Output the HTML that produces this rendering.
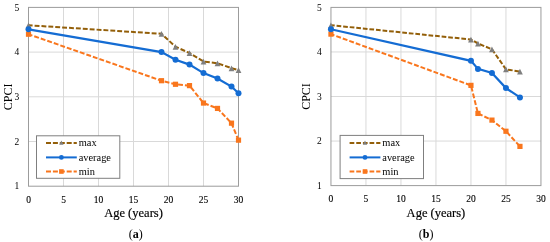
<!DOCTYPE html><html><head><meta charset="utf-8"><style>html,body{margin:0;padding:0;background:#fff;}svg{display:block}text{font-family:"Liberation Serif",serif;fill:#000}</style></head><body>
<svg width="550" height="242" viewBox="0 0 550 242">
<path d="M28.50 141.50H238.50M28.50 96.80H238.50M28.50 52.10H238.50M63.50 7.40V186.20M98.50 7.40V186.20M133.50 7.40V186.20M168.50 7.40V186.20M203.50 7.40V186.20" stroke="#D9D9D9" stroke-width="1" fill="none"/>
<rect x="28.50" y="7.40" width="210.00" height="178.80" stroke="#9C9C9C" stroke-width="1" fill="none"/>
<text x="19.30" y="189.40" font-size="9.5" text-anchor="end">1</text>
<text x="19.30" y="144.70" font-size="9.5" text-anchor="end">2</text>
<text x="19.30" y="100.00" font-size="9.5" text-anchor="end">3</text>
<text x="19.30" y="55.30" font-size="9.5" text-anchor="end">4</text>
<text x="19.30" y="10.60" font-size="9.5" text-anchor="end">5</text>
<text x="28.50" y="202.8" font-size="9.5" text-anchor="middle" stroke="#000" stroke-width="0.12">0</text>
<text x="63.50" y="202.8" font-size="9.5" text-anchor="middle" stroke="#000" stroke-width="0.12">5</text>
<text x="98.50" y="202.8" font-size="9.5" text-anchor="middle" stroke="#000" stroke-width="0.12">10</text>
<text x="133.50" y="202.8" font-size="9.5" text-anchor="middle" stroke="#000" stroke-width="0.12">15</text>
<text x="168.50" y="202.8" font-size="9.5" text-anchor="middle" stroke="#000" stroke-width="0.12">20</text>
<text x="203.50" y="202.8" font-size="9.5" text-anchor="middle" stroke="#000" stroke-width="0.12">25</text>
<text x="238.50" y="202.8" font-size="9.5" text-anchor="middle" stroke="#000" stroke-width="0.12">30</text>
<text x="133.50" y="217.3" font-size="12.5" text-anchor="middle" stroke="#000" stroke-width="0.18">Age (years)</text>
<text x="135.80" y="237.5" font-size="12" text-anchor="middle">(<tspan font-weight="bold">a</tspan>)</text>
<text transform="translate(11.80,96.80) rotate(-90)" font-size="12" text-anchor="middle">CPCI</text>
<polyline points="28.50,25.28 161.50,33.77 175.50,46.74 189.50,52.99 203.50,61.49 217.50,63.27 231.50,68.19 238.50,69.98" fill="none" stroke="#935F09" stroke-width="2" stroke-dasharray="4.9 2" stroke-dashoffset="0.8"/>
<polyline points="28.50,29.30 161.50,52.10 175.50,59.70 189.50,64.62 203.50,73.11 217.50,78.47 231.50,86.52 238.50,93.22" fill="none" stroke="#146CD3" stroke-width="2.2"/>
<polyline points="28.50,34.22 161.50,80.71 175.50,84.28 189.50,85.63 203.50,103.06 217.50,108.42 231.50,123.17 238.50,140.16" fill="none" stroke="#F9761D" stroke-width="2" stroke-dasharray="4.9 2" stroke-dashoffset="0.8"/>
<path d="M28.50 22.48L31.40 28.28H25.60Z" fill="#7F7F7F"/>
<path d="M161.50 30.97L164.40 36.77H158.60Z" fill="#7F7F7F"/>
<path d="M175.50 43.94L178.40 49.74H172.60Z" fill="#7F7F7F"/>
<path d="M189.50 50.19L192.40 55.99H186.60Z" fill="#7F7F7F"/>
<path d="M203.50 58.69L206.40 64.49H200.60Z" fill="#7F7F7F"/>
<path d="M217.50 60.48L220.40 66.28H214.60Z" fill="#7F7F7F"/>
<path d="M231.50 65.39L234.40 71.19H228.60Z" fill="#7F7F7F"/>
<path d="M238.50 67.18L241.40 72.98H235.60Z" fill="#7F7F7F"/>
<rect x="25.90" y="31.62" width="5.2" height="5.2" fill="#F9761D"/>
<rect x="158.90" y="78.11" width="5.2" height="5.2" fill="#F9761D"/>
<rect x="172.90" y="81.68" width="5.2" height="5.2" fill="#F9761D"/>
<rect x="186.90" y="83.03" width="5.2" height="5.2" fill="#F9761D"/>
<rect x="200.90" y="100.46" width="5.2" height="5.2" fill="#F9761D"/>
<rect x="214.90" y="105.82" width="5.2" height="5.2" fill="#F9761D"/>
<rect x="228.90" y="120.57" width="5.2" height="5.2" fill="#F9761D"/>
<rect x="235.90" y="137.56" width="5.2" height="5.2" fill="#F9761D"/>
<circle cx="28.50" cy="29.30" r="3" fill="#146CD3"/>
<circle cx="161.50" cy="52.10" r="3" fill="#146CD3"/>
<circle cx="175.50" cy="59.70" r="3" fill="#146CD3"/>
<circle cx="189.50" cy="64.62" r="3" fill="#146CD3"/>
<circle cx="203.50" cy="73.11" r="3" fill="#146CD3"/>
<circle cx="217.50" cy="78.47" r="3" fill="#146CD3"/>
<circle cx="231.50" cy="86.52" r="3" fill="#146CD3"/>
<circle cx="238.50" cy="93.22" r="3" fill="#146CD3"/>
<rect x="36.50" y="135.80" width="83.30" height="42.50" fill="#fff" stroke="#7F7F7F" stroke-width="1"/>
<line x1="46.00" y1="143.00" x2="76.80" y2="143.00" stroke="#935F09" stroke-width="2" stroke-dasharray="5 1.9"/>
<path d="M61.40 140.40L63.60 144.70H59.20Z" fill="#7F7F7F"/>
<text x="78.70" y="146.10" font-size="10.4">max</text>
<line x1="46.00" y1="157.40" x2="76.80" y2="157.40" stroke="#146CD3" stroke-width="2"/>
<circle cx="61.40" cy="157.40" r="2.4" fill="#146CD3"/>
<text x="78.70" y="160.50" font-size="10.4">average</text>
<line x1="46.00" y1="171.50" x2="76.80" y2="171.50" stroke="#F9761D" stroke-width="2" stroke-dasharray="5 1.9"/>
<rect x="59.10" y="169.20" width="4.6" height="4.6" fill="#F9761D"/>
<text x="78.70" y="174.60" font-size="10.4">min</text>
<path d="M330.95 141.05H540.95M330.95 96.50H540.95M330.95 51.95H540.95M365.95 7.40V185.60M400.95 7.40V185.60M435.95 7.40V185.60M470.95 7.40V185.60M505.95 7.40V185.60" stroke="#D9D9D9" stroke-width="1" fill="none"/>
<rect x="330.95" y="7.40" width="210.00" height="178.20" stroke="#9C9C9C" stroke-width="1" fill="none"/>
<text x="321.70" y="188.80" font-size="9.5" text-anchor="end">1</text>
<text x="321.70" y="144.25" font-size="9.5" text-anchor="end">2</text>
<text x="321.70" y="99.70" font-size="9.5" text-anchor="end">3</text>
<text x="321.70" y="55.15" font-size="9.5" text-anchor="end">4</text>
<text x="321.70" y="10.60" font-size="9.5" text-anchor="end">5</text>
<text x="330.95" y="202.2" font-size="9.5" text-anchor="middle" stroke="#000" stroke-width="0.12">0</text>
<text x="365.95" y="202.2" font-size="9.5" text-anchor="middle" stroke="#000" stroke-width="0.12">5</text>
<text x="400.95" y="202.2" font-size="9.5" text-anchor="middle" stroke="#000" stroke-width="0.12">10</text>
<text x="435.95" y="202.2" font-size="9.5" text-anchor="middle" stroke="#000" stroke-width="0.12">15</text>
<text x="470.95" y="202.2" font-size="9.5" text-anchor="middle" stroke="#000" stroke-width="0.12">20</text>
<text x="505.95" y="202.2" font-size="9.5" text-anchor="middle" stroke="#000" stroke-width="0.12">25</text>
<text x="540.95" y="202.2" font-size="9.5" text-anchor="middle" stroke="#000" stroke-width="0.12">30</text>
<text x="435.95" y="217.3" font-size="12.5" text-anchor="middle" stroke="#000" stroke-width="0.18">Age (years)</text>
<text x="426.10" y="237.5" font-size="12" text-anchor="middle">(<tspan font-weight="bold">b</tspan>)</text>
<text transform="translate(309.80,96.50) rotate(-90)" font-size="12" text-anchor="middle">CPCI</text>
<polyline points="330.95,25.22 470.95,39.48 477.95,43.49 491.95,49.28 505.95,69.32 519.95,71.55" fill="none" stroke="#935F09" stroke-width="2" stroke-dasharray="4.7 1.9" stroke-dashoffset="0.95"/>
<polyline points="330.95,29.23 470.95,60.86 477.95,68.88 491.95,72.89 505.95,88.04 519.95,97.39" fill="none" stroke="#146CD3" stroke-width="2.2"/>
<polyline points="330.95,34.13 470.95,85.36 477.95,113.43 491.95,120.11 505.95,131.25 519.95,146.40" fill="none" stroke="#F9761D" stroke-width="2" stroke-dasharray="4.9 2" stroke-dashoffset="1.2"/>
<path d="M330.95 22.42L333.85 28.22H328.05Z" fill="#7F7F7F"/>
<path d="M470.95 36.68L473.85 42.48H468.05Z" fill="#7F7F7F"/>
<path d="M477.95 40.69L480.85 46.49H475.05Z" fill="#7F7F7F"/>
<path d="M491.95 46.48L494.85 52.28H489.05Z" fill="#7F7F7F"/>
<path d="M505.95 66.52L508.85 72.32H503.05Z" fill="#7F7F7F"/>
<path d="M519.95 68.75L522.85 74.55H517.05Z" fill="#7F7F7F"/>
<rect x="328.35" y="31.53" width="5.2" height="5.2" fill="#F9761D"/>
<rect x="468.35" y="82.76" width="5.2" height="5.2" fill="#F9761D"/>
<rect x="475.35" y="110.83" width="5.2" height="5.2" fill="#F9761D"/>
<rect x="489.35" y="117.51" width="5.2" height="5.2" fill="#F9761D"/>
<rect x="503.35" y="128.65" width="5.2" height="5.2" fill="#F9761D"/>
<rect x="517.35" y="143.80" width="5.2" height="5.2" fill="#F9761D"/>
<circle cx="330.95" cy="29.23" r="3" fill="#146CD3"/>
<circle cx="470.95" cy="60.86" r="3" fill="#146CD3"/>
<circle cx="477.95" cy="68.88" r="3" fill="#146CD3"/>
<circle cx="491.95" cy="72.89" r="3" fill="#146CD3"/>
<circle cx="505.95" cy="88.04" r="3" fill="#146CD3"/>
<circle cx="519.95" cy="97.39" r="3" fill="#146CD3"/>
<rect x="340.10" y="135.40" width="83.40" height="43.20" fill="#fff" stroke="#7F7F7F" stroke-width="1"/>
<line x1="349.60" y1="143.00" x2="380.40" y2="143.00" stroke="#935F09" stroke-width="2" stroke-dasharray="4.7 1.95"/>
<path d="M365.00 140.40L367.20 144.70H362.80Z" fill="#7F7F7F"/>
<text x="382.30" y="146.10" font-size="10.4">max</text>
<line x1="349.60" y1="157.40" x2="380.40" y2="157.40" stroke="#146CD3" stroke-width="2"/>
<circle cx="365.00" cy="157.40" r="2.4" fill="#146CD3"/>
<text x="382.30" y="160.50" font-size="10.4">average</text>
<line x1="349.60" y1="171.50" x2="380.40" y2="171.50" stroke="#F9761D" stroke-width="2" stroke-dasharray="4.7 1.95"/>
<rect x="362.70" y="169.20" width="4.6" height="4.6" fill="#F9761D"/>
<text x="382.30" y="174.60" font-size="10.4">min</text>
</svg></body></html>
